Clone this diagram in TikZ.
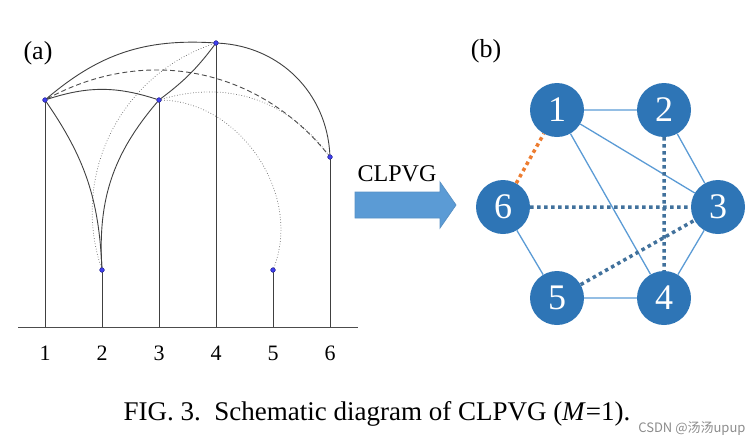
\documentclass[tikz,border=0pt]{standalone}
\usepackage{fontspec}
\setmainfont{Liberation Serif}
\newfontfamily\cjk{Noto Sans CJK SC}
\definecolor{nodeblue}{HTML}{2E75B6}
\definecolor{edgeblue}{HTML}{5B9BD5}
\definecolor{dotblue}{HTML}{41719C}
\definecolor{orangeE}{HTML}{ED7D31}
\definecolor{ptblue}{HTML}{4040F0}
\begin{document}
\begin{tikzpicture}[x=1pt,y=-1pt,
  bar/.style={draw=black!75,line width=0.8pt},
  pt/.style={circle,fill=ptblue,draw=ptblue!60!black,inner sep=0pt,minimum size=4.5pt},
  arcS/.style={draw=black!75,line width=0.9pt},
  arcD/.style={draw=black!70,line width=0.9pt,dash pattern=on 5pt off 3pt},
  arcO/.style={draw=black!60,line width=0.7pt,dotted},
  axl/.style={font=\fontsize{22}{22}\selectfont},
  gn/.style={circle,fill=nodeblue,minimum size=54pt,inner sep=0pt,text=white,font=\fontsize{36}{36}\selectfont},
  se/.style={draw=edgeblue,line width=1.3pt},
  de/.style={draw=dotblue,line width=3.5pt,dash pattern=on 3.5pt off 3.5pt},
  oe/.style={draw=orangeE,line width=3.5pt,dash pattern=on 3.5pt off 3.5pt}]
\useasboundingbox (0,0) rectangle (751,445);
% axis
\coordinate (a0) at (18,327); \coordinate (a1) at (358,327);
\draw[black!70,line width=0.8pt] (a0) -- (a1);
\foreach \i/\x/\y in {1/45/100,2/102/270,3/159/100,4/216/43,5/273/270,6/330/157}{
  \coordinate (b\i) at (\x,327);
  \node[pt] (p\i) at (\x,\y) {};
  \node[axl] (l\i) at (\x,353) {\i};
}
% arcs
\draw[arcD] (p1) to[bend left=40] (p6);
\draw[arcO] (p2) to[bend left=45] (p4);
\draw[arcO] (p3) to[bend left=35] (p6);
\draw[arcO] (p3) to[bend left=55] (p5);
\draw[arcS] (p1) to[bend left=22] (p4);
\draw[arcS] (p1) to[bend left=18] (p3);
\draw[arcS] (p1) to[bend left=16] (p2);
\draw[arcS] (p3) to[bend right=22] (p2);
\draw[arcS] (p3) to[bend right=8] (p4);
\draw[arcS] (p4) to[bend left=42] (p6);
\foreach \i in {1,...,6}{\draw[bar] (b\i) -- (p\i); \node[pt] at (p\i) {};}
\node[font=\fontsize{26}{26}\selectfont] (la) at (38,53) {(a)};
% arrow
\node[font=\fontsize{24}{24}\selectfont] (cl) at (397,174) {CLPVG};
\draw[fill=edgeblue,draw=nodeblue!80,line width=0.8pt] (355,192) -- (440,192) -- (440,182) -- (456,205) -- (440,228) -- (440,218) -- (355,218) -- cycle;
% graph
\node[font=\fontsize{26}{26}\selectfont] (lb) at (486,51) {(b)};
\node[gn] (n1) at (557,110) {1};
\node[gn] (n2) at (664,110) {2};
\node[gn] (n3) at (718,207) {3};
\node[gn] (n4) at (664,298) {4};
\node[gn] (n5) at (557,298) {5};
\node[gn] (n6) at (503,207) {6};
\path[se] (n1) -- (n2) (n1) -- (n3) (n1) -- (n4) (n2) -- (n3) (n3) -- (n4) (n4) -- (n5) (n5) -- (n6);
\path[de] (n6) -- (n3) (n2) -- (n4) (n5) -- (n3);
\path[oe] (n6) -- (n1);
\node[font=\fontsize{27}{27}\selectfont] (cap) at (377,414) {FIG. 3.\ \ Schematic diagram of CLPVG (\textit{M}=1).};
\node[font=\cjk\fontsize{13}{13}\selectfont,text=black!45,anchor=east] (wm) at (749,429) {CSDN @汤汤upup};
\end{tikzpicture}
\end{document}
